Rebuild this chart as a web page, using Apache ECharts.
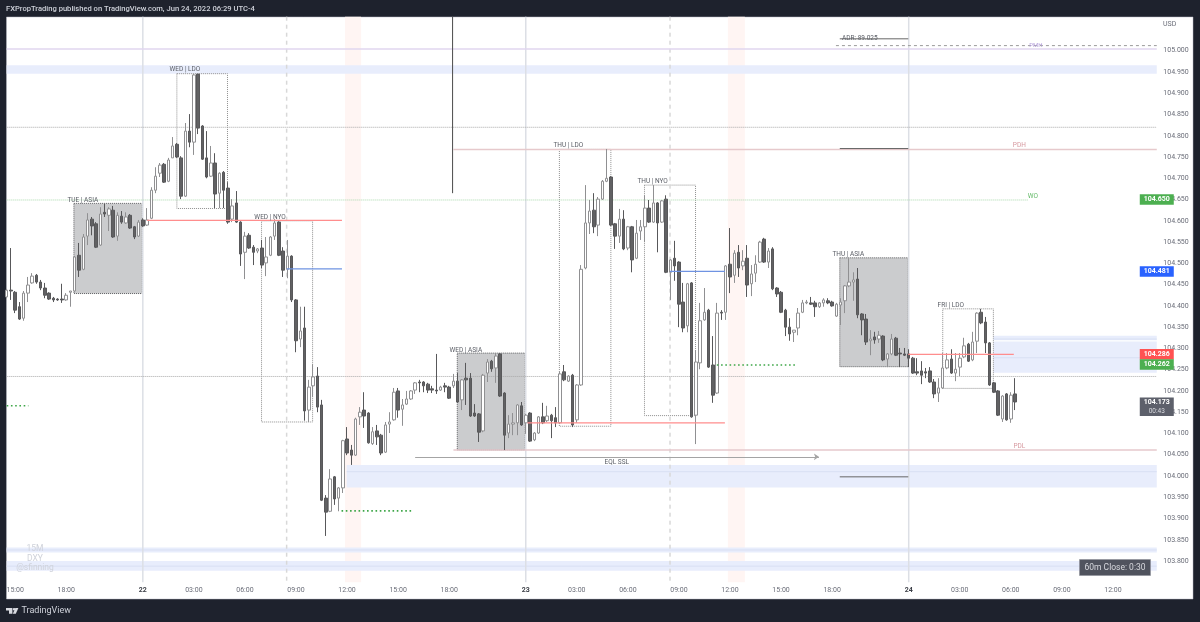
<!DOCTYPE html>
<html>
<head>
<meta charset="utf-8">
<style>html,body{margin:0;padding:0;background:#1e222d}#main{width:1200px;height:622px}</style>
<script src="https://cdn.jsdelivr.net/npm/echarts@6/dist/echarts.min.js"></script>
</head>
<body>
<div id="main"></div>
<script>
// DXY 15m bars
var opens = [
104.421,104.437,104.432,104.398,104.371,104.430,104.454,104.472,104.456,104.442,
104.430,104.418,104.416,104.416,104.414,104.432,104.435,104.519,104.486,104.564,
104.604,104.593,104.543,104.620,104.613,104.625,104.564,104.611,104.595,104.613,
104.586,104.564,104.602,104.590,104.606,104.672,104.712,104.733,104.693,104.748,
104.780,104.748,104.658,104.811,104.785,104.945,104.823,104.748,104.705,104.736,
104.665,104.714,104.677,104.604,104.642,104.597,104.526,104.566,104.538,104.529,
104.536,104.501,104.519,104.564,104.597,104.529,104.486,104.517,104.414,104.322,
104.348,104.155,104.212,104.235,104.167,103.948,103.917,103.998,103.948,103.972,
104.087,104.061,104.049,104.139,104.155,104.148,104.076,104.106,104.096,104.056,
104.122,104.132,104.200,104.157,104.169,104.181,104.202,104.221,104.221,104.216,
104.205,104.202,104.202,104.212,104.209,104.212,104.223,104.179,104.230,104.230,
104.148,104.146,104.106,104.242,104.270,104.254,104.287,104.195,104.101,104.122,
104.125,104.165,104.125,104.148,104.085,104.101,104.139,104.130,104.143,104.137,
104.125,104.245,104.223,104.237,104.132,104.214,104.489,104.595,104.625,104.590,
104.651,104.693,104.703,104.593,104.564,104.604,104.536,104.586,104.512,104.576,
104.586,104.630,104.597,104.642,104.597,104.651,104.479,104.512,104.503,104.409,
104.353,104.454,104.143,104.266,104.367,104.390,104.261,104.195,104.385,104.385,
104.498,104.472,104.526,104.494,104.512,104.452,104.477,104.503,104.557,104.503,
104.534,104.442,104.432,104.390,104.350,104.338,104.348,104.385,104.407,104.407,
104.407,104.398,104.407,104.412,104.409,104.376,104.402,104.412,104.447,104.456,
104.463,104.381,104.369,104.318,104.327,104.322,104.329,104.275,104.287,104.324,
104.289,104.287,104.287,104.277,104.245,104.247,104.245,104.247,104.221,104.195,
104.207,104.254,104.275,104.242,104.256,104.280,104.310,104.273,104.317,104.385,
104.362,104.313,104.219,104.200,104.134,104.193,104.134,104.193];
var closes = [
104.437,104.435,104.390,104.369,104.430,104.449,104.470,104.456,104.442,104.425,
104.416,104.414,104.414,104.414,104.425,104.435,104.515,104.484,104.562,104.602,
104.588,104.538,104.616,104.616,104.628,104.562,104.613,104.597,104.609,104.583,
104.562,104.597,104.588,104.602,104.672,104.705,104.731,104.691,104.743,104.776,
104.750,104.658,104.811,104.785,104.943,104.818,104.745,104.703,104.736,104.663,
104.712,104.672,104.597,104.635,104.597,104.522,104.564,104.536,104.526,104.534,
104.496,104.515,104.562,104.595,104.519,104.484,104.517,104.414,104.318,104.341,
104.153,104.209,104.233,104.162,103.943,103.915,103.993,103.946,103.972,104.083,
104.054,104.049,104.134,104.150,104.141,104.078,104.104,104.092,104.054,104.120,
104.127,104.197,104.155,104.167,104.181,104.200,104.219,104.219,104.212,104.202,
104.202,104.200,104.209,104.209,104.183,104.223,104.174,104.226,104.226,104.141,
104.141,104.103,104.237,104.268,104.252,104.282,104.188,104.096,104.122,104.125,
104.167,104.120,104.143,104.082,104.101,104.139,104.125,104.141,104.130,104.125,
104.240,104.226,104.235,104.120,104.214,104.486,104.595,104.623,104.586,104.651,
104.693,104.700,104.590,104.564,104.604,104.534,104.586,104.508,104.571,104.586,
104.630,104.597,104.642,104.595,104.647,104.479,104.508,104.494,104.404,104.348,
104.452,104.139,104.268,104.365,104.385,104.256,104.190,104.383,104.383,104.494,
104.468,104.524,104.489,104.505,104.449,104.475,104.498,104.550,104.503,104.529,
104.440,104.428,104.385,104.350,104.334,104.343,104.383,104.407,104.409,104.404,
104.398,104.407,104.414,104.407,104.400,104.404,104.409,104.447,104.456,104.461,
104.379,104.367,104.315,104.322,104.320,104.331,104.273,104.287,104.322,104.284,
104.287,104.284,104.277,104.242,104.242,104.237,104.242,104.221,104.193,104.207,
104.254,104.273,104.242,104.251,104.277,104.306,104.270,104.315,104.383,104.360,
104.313,104.214,104.197,104.143,104.188,104.132,104.190,104.174];
var highs = [
104.440,104.536,104.435,104.409,104.435,104.468,104.477,104.475,104.461,104.454,
104.432,104.421,104.418,104.452,104.430,104.435,104.517,104.548,104.569,104.618,
104.609,104.597,104.632,104.640,104.632,104.635,104.620,104.623,104.620,104.616,
104.588,104.602,104.606,104.630,104.679,104.726,104.736,104.736,104.748,104.797,
104.783,104.752,104.830,104.851,104.945,104.945,104.825,104.811,104.776,104.759,
104.714,104.717,104.691,104.651,104.670,104.599,104.574,104.571,104.543,104.536,
104.555,104.562,104.564,104.604,104.599,104.538,104.555,104.519,104.416,104.398,
104.398,104.226,104.263,104.256,104.179,103.955,104.016,104.000,103.974,104.085,
104.115,104.073,104.137,104.162,104.197,104.150,104.115,104.120,104.099,104.127,
104.150,104.207,104.207,104.181,104.200,104.202,104.221,104.226,104.223,104.219,
104.212,104.287,104.212,104.219,104.212,104.240,104.242,104.228,104.266,104.242,
104.169,104.148,104.240,104.275,104.273,104.289,104.289,104.197,104.143,104.148,
104.169,104.174,104.146,104.150,104.103,104.141,104.172,104.165,104.146,104.162,
104.245,104.261,104.237,104.240,104.216,104.496,104.684,104.649,104.665,104.656,
104.696,104.769,104.705,104.595,104.628,104.625,104.588,104.588,104.602,104.602,
104.660,104.649,104.684,104.644,104.649,104.660,104.510,104.553,104.505,104.454,
104.454,104.456,104.296,104.407,104.442,104.393,104.329,104.407,104.390,104.496,
104.583,104.531,104.543,104.531,104.543,104.496,104.519,104.553,104.560,104.536,
104.538,104.444,104.435,104.393,104.371,104.343,104.395,104.414,104.414,104.421,
104.412,104.409,104.418,104.418,104.412,104.407,104.418,104.449,104.512,104.479,
104.489,104.383,104.381,104.343,104.339,104.341,104.331,104.289,104.334,104.327,
104.301,104.301,104.298,104.280,104.277,104.270,104.254,104.256,104.228,104.230,
104.289,104.289,104.298,104.289,104.289,104.325,104.313,104.339,104.385,104.393,
104.374,104.315,104.221,104.202,104.190,104.195,104.197,104.230];
var lows = [
104.418,104.414,104.383,104.367,104.365,104.409,104.452,104.452,104.437,104.418,
104.414,104.409,104.412,104.407,104.412,104.398,104.432,104.468,104.484,104.543,
104.566,104.536,104.541,104.609,104.576,104.560,104.553,104.593,104.593,104.581,
104.557,104.562,104.586,104.588,104.604,104.665,104.703,104.689,104.691,104.748,
104.748,104.651,104.656,104.773,104.755,104.804,104.743,104.700,104.703,104.630,
104.630,104.630,104.593,104.597,104.595,104.494,104.463,104.534,104.496,104.524,
104.489,104.470,104.517,104.555,104.517,104.468,104.465,104.409,104.291,104.303,
104.130,104.127,104.186,104.150,103.941,103.859,103.915,103.932,103.917,103.960,
104.049,104.026,104.047,104.120,104.113,104.076,104.073,104.073,104.049,104.054,
104.101,104.130,104.137,104.118,104.167,104.179,104.193,104.197,104.197,104.195,
104.195,104.193,104.200,104.197,104.181,104.207,104.172,104.155,104.167,104.139,
104.139,104.080,104.103,104.221,104.245,104.219,104.186,104.061,104.089,104.096,
104.096,104.118,104.099,104.080,104.082,104.099,104.122,104.127,104.089,104.115,
104.122,104.223,104.221,104.115,104.125,104.212,104.486,104.569,104.571,104.564,
104.649,104.691,104.588,104.534,104.548,104.531,104.531,104.479,104.510,104.555,
104.550,104.595,104.595,104.526,104.595,104.477,104.414,104.459,104.350,104.338,
104.338,104.137,104.075,104.251,104.365,104.254,104.172,104.193,104.367,104.367,
104.430,104.454,104.468,104.484,104.421,104.423,104.456,104.501,104.501,104.489,
104.437,104.421,104.383,104.329,104.318,104.315,104.331,104.383,104.404,104.402,
104.374,104.395,104.398,104.404,104.398,104.374,104.355,104.383,104.444,104.412,
104.371,104.331,104.308,104.284,104.311,104.313,104.270,104.256,104.284,104.282,
104.256,104.282,104.256,104.240,104.237,104.216,104.230,104.219,104.183,104.174,
104.205,104.251,104.240,104.223,104.235,104.277,104.268,104.270,104.289,104.357,
104.289,104.212,104.195,104.141,104.127,104.130,104.125,104.155];

// time axis: bar index of each label
var tickBars = [2,14,32,44,56,68,80,92,104,122,134,146,158,170,182,194,212,224,236,248,260];
var tickLabels = ['15:00','18:00','22','03:00','06:00','09:00','12:00','15:00','18:00','23','03:00','06:00','09:00','12:00','15:00','18:00','24','03:00','06:00','09:00','12:00'];

var END = 270.3, PMIN = 103.75, PMAX = 105.08;

// drawings: [fromBar, toBar, price] or [fromBar, toBar, priceA, priceB]
var killzones = [[79.5,83.3,PMAX,PMIN],[169.5,173.5,PMAX,PMIN]];
var blueZones = [[0,END,104.966,104.946],[79.9,END,104.026,103.973],[0,END,103.832,103.820],[0,END,103.800,103.777],[231.9,END,104.330,104.319],[231.9,END,104.316,104.243]];
var blueZoneMids = [[79.9,END,104.010],[0,END,103.826],[0,END,103.788],[231.9,END,104.322],[231.9,END,104.278]];
var asiaBoxes = [[15.8,31.9,104.641,104.429],[105.9,121.9,104.289,104.061],[195.8,211.9,104.513,104.257]];
var sessionBoxes = [[40,51.9,104.946,104.629],[59.9,71.9,104.600,104.127],[129.9,142,104.768,104.117],[149.9,161.9,104.684,104.142],[220,231.9,104.393,104.206]];
var dayLines = [32,122,212];
var nyLines = [65.8,155.9];
var dottedLevels = [[0,END,104.820],[0,END,104.234]];
var purpleLevels = [[0,END,105.004]];
var pmhLevels = [[194.9,END,105.012]];
var pinkLevels = [[105,END,104.768],[105,END,104.061]];
var darkLevels = [[195.8,211.9,105.028],[195.8,211.9,104.770],[195.8,211.9,103.998]];
var redLevels = [[33,78.8,104.601],[122.4,168.8,104.125],[211.9,236.7,104.286]];
var blueLevels = [[65.8,78.8,104.487],[155.9,168.8,104.481]];
var greenDots = [[0,5.1,104.165],[78.7,95.2,103.918],[166.9,185.3,104.261]];
var weekOpen = [[0,240,104.649]];
var eqlArrow = [[96,190.9,104.045]];
var blackLine = [[104.8,105.08,104.665]];

var sessionNames = [[17.9,104.649,'TUE | ASIA'],[41.9,104.955,'WED | LDO'],[61.9,104.609,'WED | NYO'],[107.9,104.296,'WED | ASIA'],[132,104.777,'THU | LDO'],[151.8,104.692,'THU | NYO'],[197.8,104.521,'THU | ASIA'],[221.9,104.401,'FRI | LDO'],[143.4,104.031,'EQL SSL'],[200.5,105.028,'ADR: 89.025']];
var pinkNames = [[238,104.777,'PDH'],[238,104.069,'PDL']];
var greenNames = [[241.2,104.657,'WO']];
var purpleNames = [[241.9,105.012,'PMH']];

var priceTags = [[104.650,'#4caf50'],[104.481,'#2962ff'],[104.286,'#ff5252'],[104.262,'#4caf50']];
var lastPrice = 104.173, barCountdown = '00:43';

var FONT = 'Roboto';

function areaSeries(list, fill) {
    return {
        type: 'line', data: [], silent: true,
        markArea: {
            silent: true, z: 1,
            itemStyle: fill,
            label: {show: false},
            data: list.map(function(b) { return [{coord: [b[0], b[2]]}, {coord: [b[1], b[3]]}]; })
        }
    };
}
// one plain line series per drawn segment
function segment(a, b, color, width, type, z) {
    return {
        type: 'line', data: [a, b], symbol: 'none', silent: true, z: z, animation: false,
        lineStyle: {color: color, width: width, type: type, opacity: 1}
    };
}
function levels(list, color, width, type, z) {
    return list.map(function(s) { return segment([s[0], s[2]], [s[1], s[2]], color, width, type, z || 5); });
}
function uprights(list, color, width, type) {
    return list.map(function(x) { return segment([x, PMAX], [x, PMIN], color, width, type, 1); });
}
function textSeries(list, color, size) {
    return {
        type: 'scatter', data: list, symbolSize: 0, silent: true, z: 10, clip: false,
        itemStyle: {opacity: 1},
        label: {
            show: true, position: 'inside', color: color, fontSize: size, fontFamily: FONT, opacity: 1,
            formatter: function(p) { return p.data[2]; }
        }
    };
}

var candles = opens.map(function(o, i) { return [i, o, closes[i], lows[i], highs[i]]; });

var tagData = priceTags.map(function(t) {
    return {value: [END, t[0]], label: {backgroundColor: t[1]}};
});

var series = [].concat(
    areaSeries(killzones, {color: '#fff5f3'}),
    areaSeries(blueZones, {color: '#e8edfc'}),
    levels(blueZoneMids, '#d8dff3', 1, 'solid', 1),
    uprights(dayLines, '#dcdfe5', 1.5, 'solid'),
    uprights(nyLines, '#d8d8d8', 1.5, [4, 4]),
    levels(dottedLevels, '#a9a9a9', 1, [1, 1], 1),
    levels(weekOpen, '#a9d8ab', 1, [1, 1], 1),
    levels(purpleLevels, '#e0d6ef', 1.5, 'solid', 1),
    levels(pinkLevels, '#e6c9cc', 1.5, 'solid', 1),
    areaSeries(asiaBoxes, {color: '#cbccce', borderColor: '#5f6063', borderWidth: 1, borderType: [1, 1]}),
    areaSeries(sessionBoxes, {color: 'rgba(0,0,0,0)', borderColor: '#8f8f8f', borderWidth: 1, borderType: [1, 1]}),
    {
        type: 'candlestick',
        data: candles,
        encode: {x: 0, y: [1, 2, 3, 4]},
        barWidth: 3,
        z: 3,
        silent: true,
        itemStyle: {color: '#ffffff', color0: '#616163', borderColor: '#909092', borderColor0: '#58585a', borderWidth: 1}
    },
    levels(pmhLevels, '#9a9a9a', 1, [3, 3]),
    levels(darkLevels, '#666666', 1, 'solid'),
    levels(redLevels, '#ff8d8d', 1.2, 'solid'),
    levels(blueLevels, '#6f93e2', 1.2, 'solid'),
    levels(greenDots, '#3ea648', 1.6, [1.6, 2.65]),
    {
        type: 'line', data: [], silent: true,
        markLine: {
            silent: true, z: 5, symbol: ['none', 'arrow'], symbolSize: 5, label: {show: false},
            lineStyle: {color: '#a4a4a4', width: 1.2, type: 'solid', opacity: 1},
            data: eqlArrow.map(function(s) { return [{coord: [s[0], s[2]]}, {coord: [s[1], s[2]]}]; })
        }
    },
    blackLine.map(function(v) { return segment([v[0], v[1]], [v[0], v[2]], '#4a4a4a', 1, 'solid', 5); }),
    textSeries(sessionNames, '#5d6068', 6.5),
    textSeries(pinkNames, '#d79aa0', 6.5),
    textSeries(greenNames, '#66bb6a', 6.5),
    textSeries(purpleNames, '#b39ddb', 6),
    {
        type: 'scatter', data: tagData, symbolSize: 0, silent: true, z: 20, clip: false,
        itemStyle: {opacity: 1},
        label: {
            show: true, position: 'right', distance: 0, width: 34, height: 10.5, lineHeight: 10.5, align: 'center',
            color: '#fff', fontSize: 7, fontWeight: 'bold', fontFamily: FONT, opacity: 1,
            formatter: function(p) { return p.value[1].toFixed(3); }
        }
    },
    {
        type: 'scatter', data: [[END, lastPrice]], symbolSize: 0, silent: true, z: 20, clip: false,
        itemStyle: {opacity: 1},
        label: {
            show: true, position: 'right', distance: 0, offset: [0, 4.3], backgroundColor: '#5d606b', opacity: 1,
            width: 34, height: 18.5, align: 'center', fontFamily: FONT,
            formatter: function() { return '{a|' + lastPrice.toFixed(3) + '}\n{b|' + barCountdown + '}'; },
            rich: {
                a: {color: '#fff', fontSize: 7, fontWeight: 'bold', lineHeight: 9.5, width: 34, align: 'center'},
                b: {color: '#d8d9de', fontSize: 6.5, lineHeight: 9, width: 34, align: 'center'}
            }
        }
    }
);

var myChart = echarts.init(document.getElementById('main'), null, {renderer: 'canvas'});
myChart.setOption({
    animation: false,
    backgroundColor: '#1e222d',
    grid: {left: 6.67, top: 16.7, width: 1150.1, height: 565.6, containLabel: false},
    xAxis: {
        type: 'value', min: 0, max: END,
        splitLine: {show: false}, axisLine: {show: false}, axisTick: {show: false},
        axisLabel: {
            customValues: tickBars, margin: 4.5, fontFamily: FONT, fontSize: 7, color: '#6a6d78',
            formatter: function(v) {
                var t = tickLabels[tickBars.indexOf(v)];
                return t.length === 2 ? '{d|' + t + '}' : t;
            },
            rich: {d: {fontFamily: FONT, fontSize: 7, fontWeight: 'bold', color: '#3c3f47'}}
        }
    },
    yAxis: {
        type: 'value', position: 'right', min: PMIN, max: PMAX, interval: 0.05, scale: true,
        splitLine: {show: false}, axisLine: {show: false}, axisTick: {show: false},
        axisLabel: {
            margin: 6.5, fontFamily: FONT, fontSize: 7, color: '#6a6d78',
            formatter: function(v) { return (v > 103.79 && v < 105.01) ? v.toFixed(3) : ''; }
        }
    },
    series: series,
    graphic: [
        {type: 'rect', z: -1, silent: true, shape: {x: 6.5, y: 17, width: 1186.5, height: 582}, style: {fill: '#ffffff', stroke: '#b8bbc4', lineWidth: 0.5}},
        {type: 'text', z: 30, left: 6, top: 5, style: {text: 'FXPropTrading published on TradingView.com, Jun 24, 2022 06:29 UTC-4', fill: '#cfd2da', font: '500 7.6px ' + FONT}},
        {type: 'text', z: 30, left: 1163, top: 21, style: {text: 'USD', fill: '#6a6d78', font: '7px ' + FONT}},
        {type: 'text', z: 6, x: 35, y: 549, style: {text: '15M', fill: '#cfd2da', font: '8.5px ' + FONT, align: 'center', verticalAlign: 'middle'}},
        {type: 'text', z: 6, x: 35, y: 558.5, style: {text: 'DXY', fill: '#cfd2da', font: '8.5px ' + FONT, align: 'center', verticalAlign: 'middle'}},
        {type: 'text', z: 6, x: 35, y: 567.5, style: {text: '@sfinning', fill: '#cfd2da', font: '8.5px ' + FONT, align: 'center', verticalAlign: 'middle'}},
        {type: 'rect', z: 30, silent: true, shape: {x: 1079.5, y: 559.5, width: 71, height: 16}, style: {fill: '#50535e', stroke: '#8e919b', lineWidth: 0.6}},
        {type: 'text', z: 31, x: 1115, y: 567.5, style: {text: '60m Close: 0:30', fill: '#d8d9de', font: '8.5px ' + FONT, align: 'center', verticalAlign: 'middle'}},
        // TradingView logo
        {type: 'polygon', z: 30, shape: {points: [[6, 608], [12.4, 608], [12.4, 613.8], [9, 613.8], [9, 610.6], [6, 610.6]]}, style: {fill: '#d8dae0'}},
        {type: 'circle', z: 30, shape: {cx: 14.1, cy: 609.3, r: 1.3}, style: {fill: '#d8dae0'}},
        {type: 'polygon', z: 30, shape: {points: [[15.4, 608], [18.4, 608], [15.8, 613.8], [12.8, 613.8]]}, style: {fill: '#d8dae0'}},
        {type: 'text', z: 30, left: 21.5, top: 606, style: {text: 'TradingView', fill: '#cfd2da', font: '9px ' + FONT}}
    ]
});
</script>
</body>
</html>
